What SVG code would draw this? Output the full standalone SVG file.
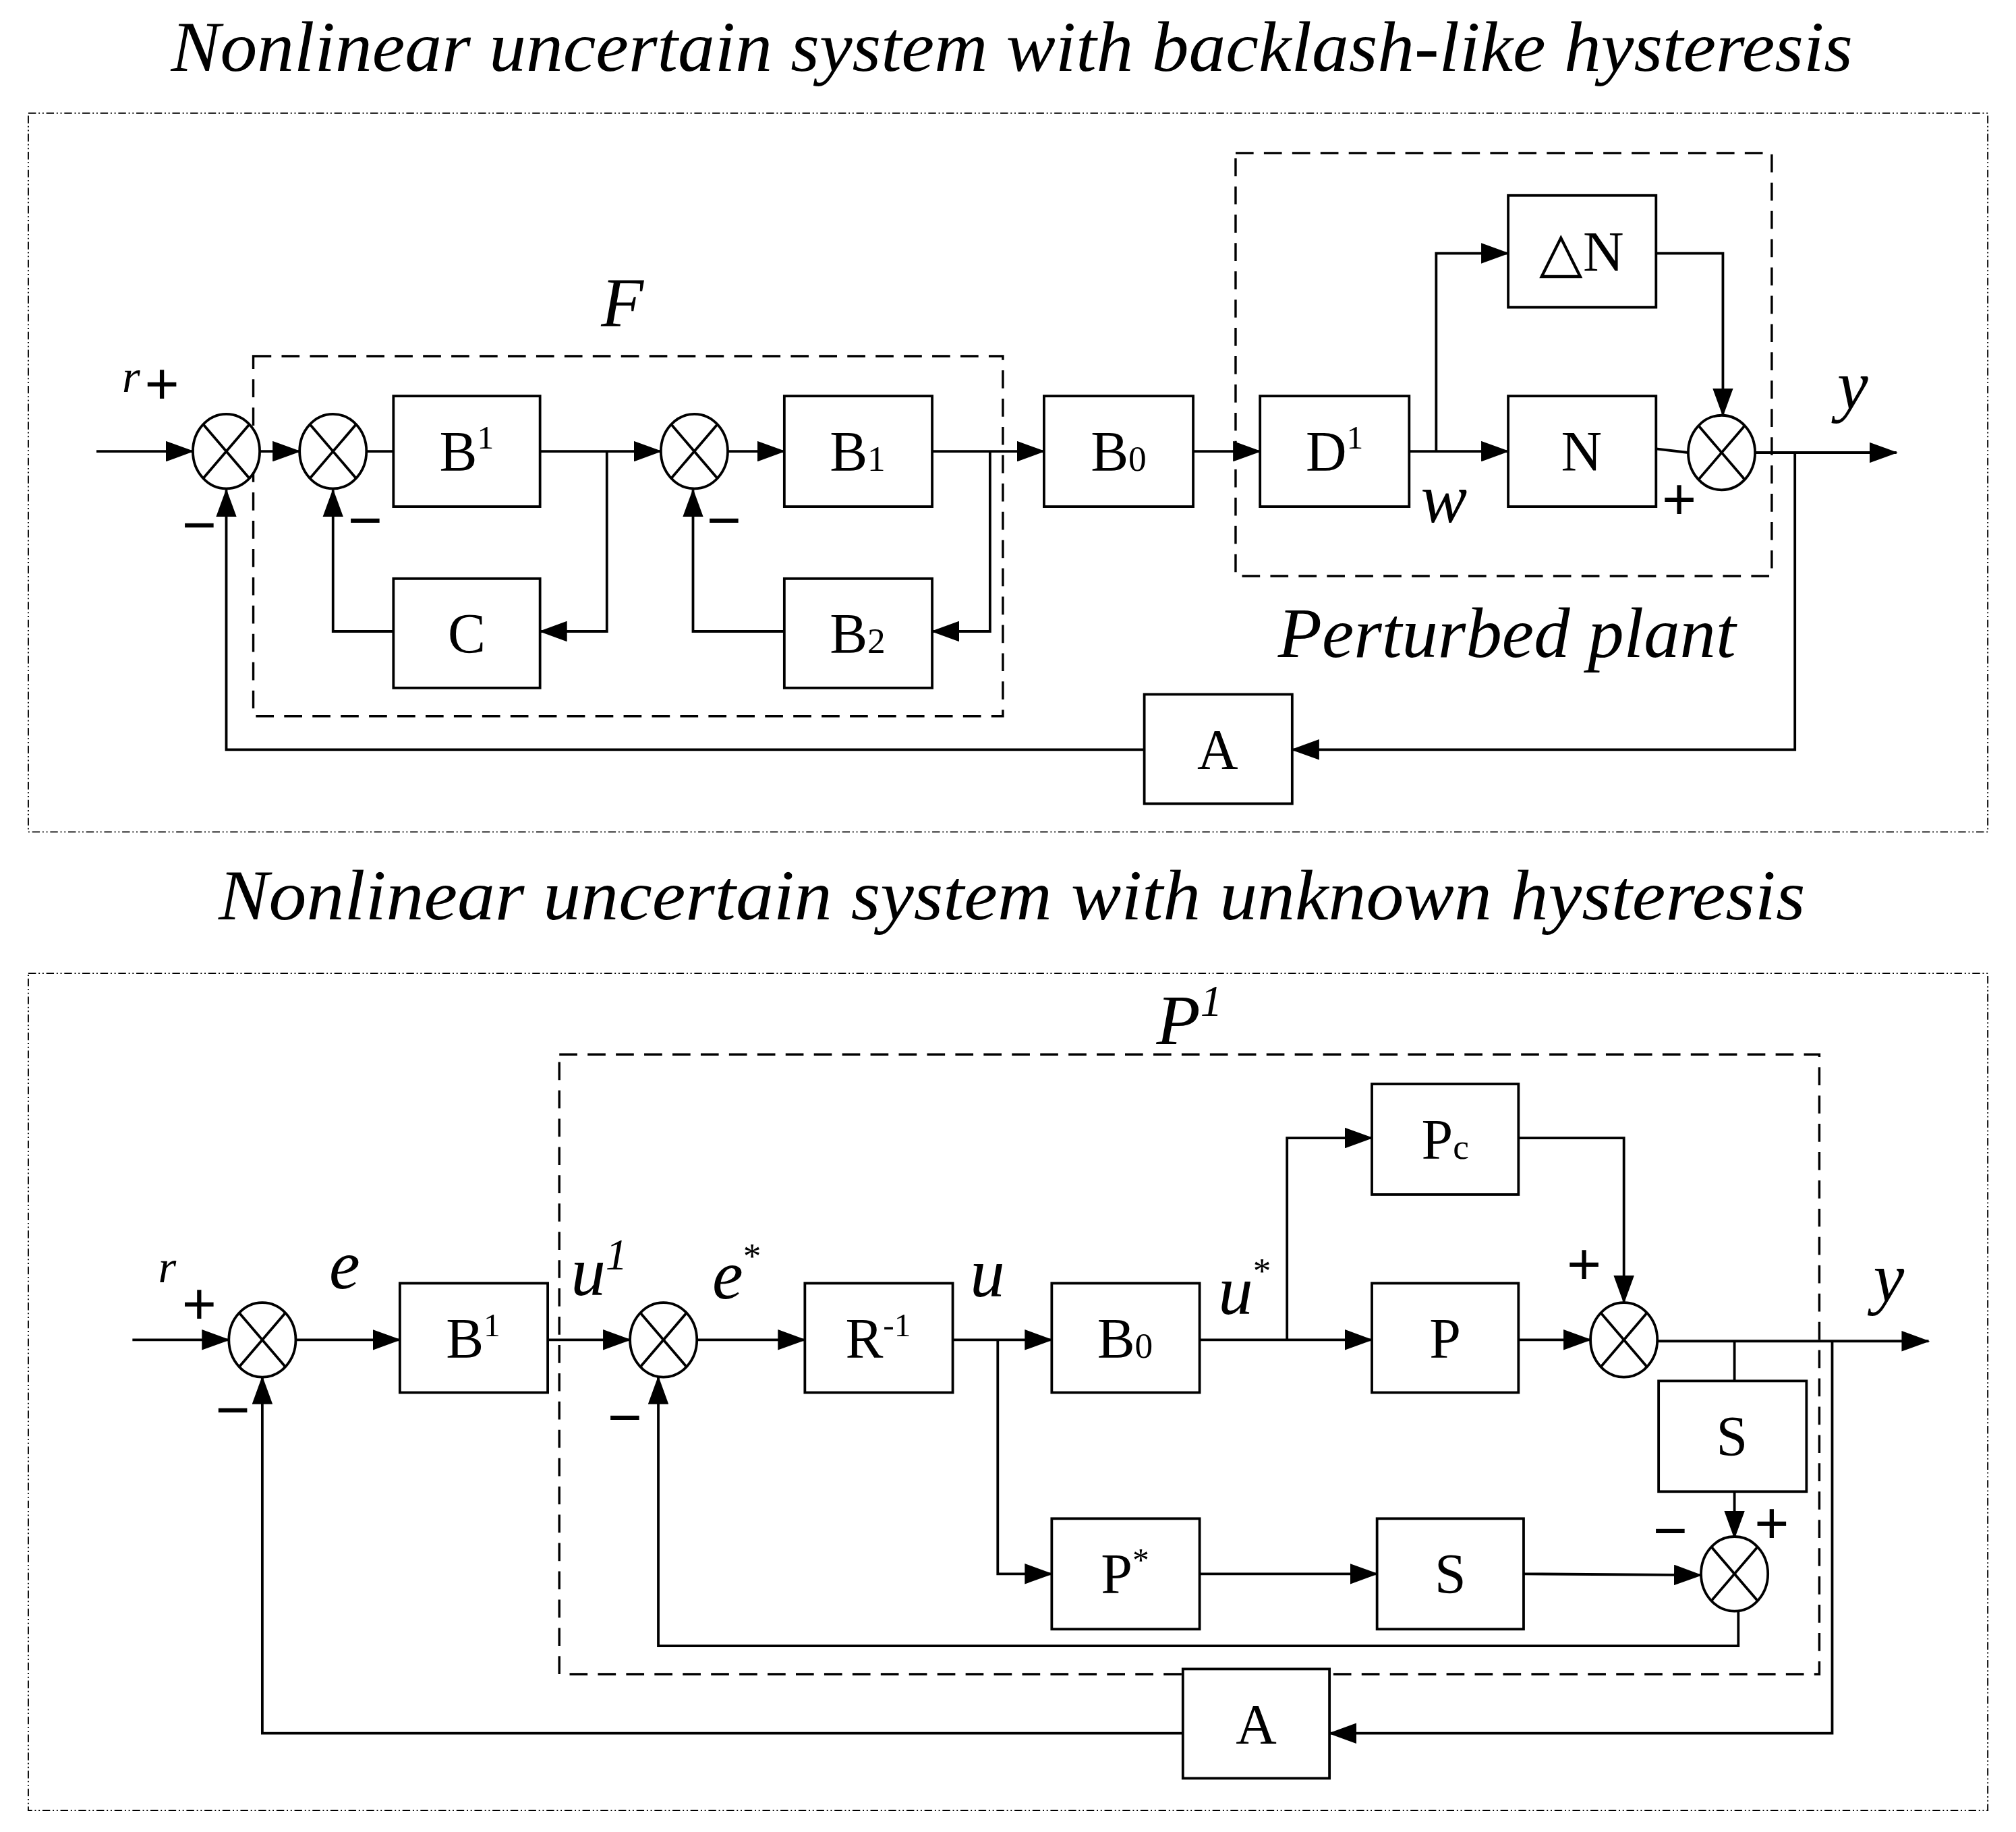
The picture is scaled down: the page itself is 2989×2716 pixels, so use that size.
<svg xmlns="http://www.w3.org/2000/svg" width="2989" height="2716" viewBox="0 0 2989 2716">
<defs>
<marker id="ah" markerUnits="userSpaceOnUse" markerWidth="22" markerHeight="16" refX="21" refY="8" orient="auto"><path d="M0,0 L22,8 L0,16 z" fill="#000"/></marker>
<style>
.ln{fill:none;stroke:#000;stroke-width:2}
.ar{fill:none;stroke:#000;stroke-width:2;marker-end:url(#ah)}
.bx{fill:#fff;stroke:#000;stroke-width:2}
.ds{fill:none;stroke:#000;stroke-width:1.8;stroke-dasharray:14 8}
.ot{fill:none;stroke:#000;stroke-width:1;stroke-dasharray:6 2 1 2 1 2}
.sj{fill:#fff;stroke:#000;stroke-width:2}
.t{font-family:"Liberation Serif",serif;font-size:44px;text-anchor:middle}
.i{font-family:"Liberation Serif",serif;font-style:italic;text-anchor:middle}
.s{font-family:"Liberation Sans",sans-serif;font-size:46px;text-anchor:middle}
</style>
</defs>
<rect width="2989" height="2716" fill="#fff"/>
<g transform="scale(1.9063)">
<text class="i" x="787" y="55" font-size="56" textLength="1308" lengthAdjust="spacingAndGlyphs">Nonlinear uncertain system with backlash-like hysteresis</text>
<text class="i" x="787" y="715" font-size="56" textLength="1234" lengthAdjust="spacingAndGlyphs">Nonlinear uncertain system with unknown hysteresis</text>
<rect class="ot" x="22" y="88" width="1524" height="559"/>
<rect class="ot" x="22" y="757" width="1524" height="651"/>
<rect class="ds" x="197" y="277" width="583" height="280"/>
<rect class="ds" x="961" y="119" width="417" height="329"/>
<rect class="ds" x="435" y="820" width="980" height="482"/>
<g id="connectors">
<path class="ar" d="M75,351 H150"/>
<path class="ar" d="M202,351 H233"/>
<path class="ln" d="M285,351 H306"/>
<path class="ar" d="M420,351 H514"/>
<path class="ar" d="M472,351 V491 H420"/>
<path class="ar" d="M306,491 H259 V381"/>
<path class="ar" d="M566,351 H610"/>
<path class="ar" d="M725,351 H812"/>
<path class="ar" d="M770,351 V491 H725"/>
<path class="ar" d="M610,491 H539 V381"/>
<path class="ar" d="M928,351 H980"/>
<path class="ar" d="M1096,351 H1173"/>
<path class="ar" d="M1117,351 V197 H1173"/>
<path class="ar" d="M1288,197 H1340 V323"/>
<path class="ln" d="M1288,349 L1313,352"/>
<path class="ar" d="M1365,352 H1475"/>
<path class="ar" d="M1396,352 V583 H1005"/>
<path class="ar" d="M890,583 H176 V381"/>
<path class="ar" d="M103,1042 H178"/>
<path class="ar" d="M230,1042 H311"/>
<path class="ar" d="M426,1042 H490"/>
<path class="ar" d="M542,1042 H626"/>
<path class="ar" d="M741,1042 H818"/>
<path class="ar" d="M776,1042 V1224 H818"/>
<path class="ar" d="M933,1042 H1067"/>
<path class="ar" d="M1001,1042 V885 H1067"/>
<path class="ar" d="M1181,885 H1263 V1013"/>
<path class="ar" d="M1181,1042 H1237"/>
<path class="ar" d="M1289,1043 H1500"/>
<path class="ln" d="M1349,1043 V1074"/>
<path class="ar" d="M1349,1160 V1196"/>
<path class="ar" d="M933,1224 H1071"/>
<path class="ar" d="M1185,1224 L1323,1225"/>
<path class="ar" d="M1352,1250 V1280 H512 V1071"/>
<path class="ar" d="M1425,1043 V1348 H1034"/>
<path class="ar" d="M920,1348 H204 V1071"/>
</g>
<g id="sum1"><ellipse class="sj" cx="176" cy="351" rx="26" ry="29"/><path class="ln" d="M158,330 L194,372 M194,330 L158,372"/></g>
<g id="sum2"><ellipse class="sj" cx="259" cy="351" rx="26" ry="29"/><path class="ln" d="M241,330 L277,372 M277,330 L241,372"/></g>
<g id="sum3"><ellipse class="sj" cx="540" cy="351" rx="26" ry="29"/><path class="ln" d="M522,330 L558,372 M558,330 L522,372"/></g>
<g id="sum4"><ellipse class="sj" cx="1339" cy="352" rx="26" ry="29"/><path class="ln" d="M1321,331 L1357,373 M1357,331 L1321,373"/></g>
<g id="sum5"><ellipse class="sj" cx="204" cy="1042" rx="26" ry="29"/><path class="ln" d="M186,1021 L222,1063 M222,1021 L186,1063"/></g>
<g id="sum6"><ellipse class="sj" cx="516" cy="1042" rx="26" ry="29"/><path class="ln" d="M498,1021 L534,1063 M534,1021 L498,1063"/></g>
<g id="sum7"><ellipse class="sj" cx="1263" cy="1042" rx="26" ry="29"/><path class="ln" d="M1245,1021 L1281,1063 M1281,1021 L1245,1063"/></g>
<g id="sum8"><ellipse class="sj" cx="1349" cy="1224" rx="26" ry="29"/><path class="ln" d="M1331,1203 L1367,1245 M1367,1203 L1331,1245"/></g>
<g id="B1sup"><rect class="bx" x="306" y="308" width="114" height="86"/><text class="t" x="363" y="366">B<tspan font-size="26" dy="-17">1</tspan></text></g>
<g id="C"><rect class="bx" x="306" y="450" width="114" height="85"/><text class="t" x="363" y="508">C</text></g>
<g id="B1sub"><rect class="bx" x="610" y="308" width="115" height="86"/><text class="t" x="667" y="366">B<tspan font-size="28">1</tspan></text></g>
<g id="B2"><rect class="bx" x="610" y="450" width="115" height="85"/><text class="t" x="667" y="508">B<tspan font-size="28">2</tspan></text></g>
<g id="B0"><rect class="bx" x="812" y="308" width="116" height="86"/><text class="t" x="870" y="366">B<tspan font-size="28">0</tspan></text></g>
<g id="D1"><rect class="bx" x="980" y="308" width="116" height="86"/><text class="t" x="1038" y="366">D<tspan font-size="26" dy="-17">1</tspan></text></g>
<g id="N"><rect class="bx" x="1173" y="308" width="115" height="86"/><text class="t" x="1230" y="366">N</text></g>
<g id="dN"><rect class="bx" x="1173" y="152" width="115" height="87"/><text class="t" x="1230" y="211">△N</text></g>
<g id="A1"><rect class="bx" x="890" y="540" width="115" height="85"/><text class="t" x="947" y="598">A</text></g>
<g id="B1b"><rect class="bx" x="311" y="998" width="115" height="85"/><text class="t" x="368" y="1056">B<tspan font-size="26" dy="-17">1</tspan></text></g>
<g id="Rinv"><rect class="bx" x="626" y="998" width="115" height="85"/><text class="t" x="683" y="1056">R<tspan font-size="26" dy="-17">-1</tspan></text></g>
<g id="B0b"><rect class="bx" x="818" y="998" width="115" height="85"/><text class="t" x="875" y="1056">B<tspan font-size="28">0</tspan></text></g>
<g id="Pc"><rect class="bx" x="1067" y="843" width="114" height="86"/><text class="t" x="1124" y="901">P<tspan font-size="28">c</tspan></text></g>
<g id="P"><rect class="bx" x="1067" y="998" width="114" height="85"/><text class="t" x="1124" y="1056">P</text></g>
<g id="S1"><rect class="bx" x="1290" y="1074" width="115" height="86"/><text class="t" x="1347" y="1132">S</text></g>
<g id="Pstar"><rect class="bx" x="818" y="1181" width="115" height="86"/><text class="t" x="875" y="1239">P<tspan font-size="26" dy="-17">*</tspan></text></g>
<g id="S2"><rect class="bx" x="1071" y="1181" width="114" height="86"/><text class="t" x="1128" y="1239">S</text></g>
<g id="A2"><rect class="bx" x="920" y="1298" width="114" height="85"/><text class="t" x="977" y="1356">A</text></g>
<g id="labels">
<text class="i" x="484" y="254" font-size="54">F</text>
<text class="i" x="102" y="305" font-size="36">r</text>
<text class="s" x="126" y="314">+</text>
<text class="s" x="155" y="424">−</text>
<text class="s" x="284" y="420">−</text>
<text class="s" x="563" y="420">−</text>
<text class="i" x="1123" y="406" font-size="54">w</text>
<text class="s" x="1306" y="404">+</text>
<text class="i" x="1441" y="318" font-size="54">y</text>
<text class="i" x="1172" y="511" font-size="56">Perturbed plant</text>
<text class="i" x="925" y="812" font-size="56">P<tspan font-size="34" dy="-22">1</tspan></text>
<text class="i" x="130" y="997" font-size="36">r</text>
<text class="s" x="155" y="1030">+</text>
<text class="s" x="181" y="1112">−</text>
<text class="i" x="268" y="1002" font-size="54">e</text>
<text class="i" x="466" y="1007" font-size="54">u<tspan font-size="34" dy="-20">1</tspan></text>
<text class="i" x="573" y="1010" font-size="54">e<tspan font-size="28" dy="-24" font-style="normal">*</tspan></text>
<text class="s" x="486" y="1118">−</text>
<text class="i" x="768" y="1008" font-size="54">u</text>
<text class="i" x="968" y="1022" font-size="54">u<tspan font-size="28" dy="-24" font-style="normal">*</tspan></text>
<text class="s" x="1232" y="999">+</text>
<text class="i" x="1469" y="1012" font-size="54">y</text>
<text class="s" x="1299" y="1206">−</text>
<text class="s" x="1378" y="1200">+</text>
</g>
</g>
</svg>
